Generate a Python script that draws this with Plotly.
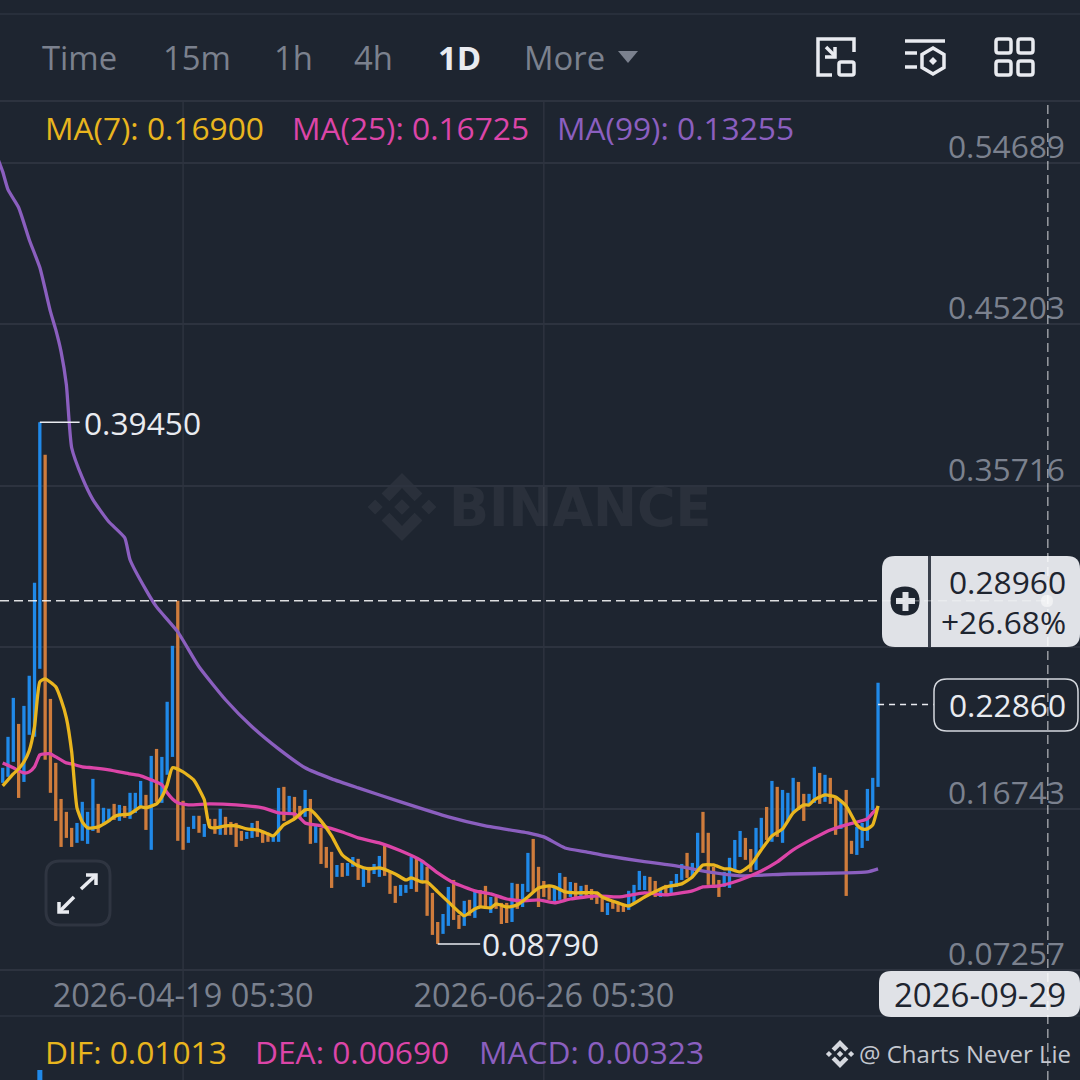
import pandas as pd
import plotly.graph_objects as go

# daily candles, 2026-03-16 to 2026-08-28
first_day = pd.Timestamp('2026-03-16')
candle_high = [
    .1914, .2096, .2325, .2172, .2278, .2455, .3002, .3945, .3754, .2319,
    .1943, .1731, .1655, .1561, .1590, .1714, .1655, .1849, .1702, .1679,
    .1673, .1702, .1696, .1690, .1767, .1767, .1837, .1755, .1984, .2025,
    .1978, .2302, .2631, .2896, .1720, .1567, .1632, .1632, .1584, .1614,
    .1614, .1673, .1626, .1596, .1590, .1543, .1537, .1590, .1602, .1532,
    .1520, .1508, .1796, .1802, .1749, .1743, .1690, .1784, .1731, .1579,
    .1561, .1449, .1420, .1343, .1355, .1355, .1390, .1379, .1326, .1332,
    .1349, .1396, .1455, .1302, .1220, .1226, .1226, .1390, .1390, .1361,
    .1332, .1179, .1008, .1055, .1214, .1255, .1049, .1132, .1138, .1185,
    .1196, .1220, .1155, .1155, .1120, .1120, .1238, .1232, .1232, .1414,
    .1496, .1332, .1249, .1226, .1208, .1296, .1273, .1243, .1238, .1220,
    .1226, .1202, .1173, .1149, .1120, .1126, .1120, .1108, .1191, .1226,
    .1308, .1279, .1273, .1249, .1208, .1226, .1249, .1290, .1349, .1414,
    .1355, .1532, .1655, .1532, .1332, .1255, .1302, .1385, .1490, .1543,
    .1502, .1437, .1561, .1620, .1684, .1837, .1802, .1784, .1767, .1855,
    .1831, .1761, .1761, .1920, .1884, .1873, .1855, .1737, .1714, .1784,
    .1485, .1567, .1590, .1790, .1855, .2414,
]
candle_low = [
    .1826, .1861, .1949, .1737, .1831, .2108, .2096, .2496, .1961, .1767,
    .1602, .1449, .1502, .1449, .1473, .1485, .1467, .1543, .1532, .1579,
    .1596, .1608, .1602, .1620, .1614, .1649, .1679, .1549, .1432, .1714,
    .1708, .1873, .1978, .1485, .1432, .1473, .1555, .1532, .1508, .1561,
    .1526, .1520, .1520, .1520, .1449, .1485, .1496, .1502, .1508, .1473,
    .1479, .1479, .1479, .1602, .1637, .1608, .1620, .1626, .1467, .1473,
    .1349, .1326, .1208, .1273, .1273, .1279, .1332, .1255, .1214, .1238,
    .1290, .1273, .1279, .1173, .1120, .1161, .1179, .1202, .1185, .1238,
    .1044, .0932, .0879, .0938, .0985, .1020, .0967, .0985, .1044, .1032,
    .1091, .1091, .1061, .1085, .0996, .1002, .1008, .1085, .1096, .1185,
    .1179, .1096, .1155, .1138, .1126, .1138, .1143, .1155, .1155, .1155,
    .1155, .1138, .1114, .1067, .1049, .1085, .1067, .1067, .1079, .1120,
    .1196, .1196, .1179, .1155, .1155, .1167, .1173, .1214, .1255, .1267,
    .1273, .1302, .1414, .1226, .1226, .1155, .1214, .1208, .1314, .1390,
    .1373, .1302, .1314, .1443, .1490, .1479, .1508, .1473, .1608, .1655,
    .1666, .1602, .1696, .1708, .1702, .1714, .1702, .1520, .1555, .1161,
    .1408, .1402, .1443, .1485, .1666, .1802,
]
# candle numbers that closed down
falling = [
    3, 8, 9, 10, 11, 12, 13, 18, 21, 23, 27, 29, 33, 34, 37, 39, 40, 42, 43, 44,
    45, 48, 49, 50, 53, 55, 56, 58, 60, 61, 62, 64, 67, 69, 72, 73, 74, 78, 80,
    81, 82, 85, 86, 88, 90, 91, 93, 94, 95, 97, 100, 101, 102, 103, 106, 108,
    110, 111, 112, 113, 115, 116, 117, 122, 123, 125, 129, 132, 133, 134, 135,
    140, 141, 144, 146, 150, 151, 154, 156, 157, 159, 160,
]

ma7_day = [
    0, 1, 2, 3, 4, 5, 6, 7, 8, 10, 11, 12, 13, 14, 15, 16, 18, 20, 21, 22, 24, 26,
    27, 29, 30, 31, 32, 34, 36, 37, 38, 39, 40, 42, 44, 46, 48, 50, 51, 53, 55, 57,
    58, 60, 62, 64, 67, 69, 71, 74, 76, 77, 79, 80, 82, 84, 86, 87, 89, 90, 92, 93,
    95, 97, 99, 101, 103, 104, 106, 108, 112, 113, 116, 118, 121, 124, 125, 128,
    130, 132, 134, 136, 137, 139, 141, 143, 145, 147, 149, 151, 152, 153, 155, 157,
    159, 161, 162, 163, 164, 165,
]
ma7 = [
    .1808, .1843, .1878, .1908, .1949, .2014, .2155, .2419, .2437, .2390, .2314,
    .2208, .2008, .1679, .1596, .1561, .1567, .1602, .1626, .1637, .1643, .1684,
    .1679, .1702, .1743, .1814, .1914, .1890, .1843, .1790, .1726, .1567, .1561,
    .1573, .1573, .1555, .1549, .1526, .1514, .1579, .1614, .1667, .1667, .1602,
    .1514, .1402, .1338, .1320, .1326, .1290, .1255, .1267, .1243, .1243, .1185,
    .1126, .1067, .1044, .1085, .1096, .1091, .1114, .1096, .1108, .1155, .1208,
    .1220, .1214, .1185, .1179, .1179, .1155, .1120, .1102, .1155, .1202, .1214,
    .1232, .1273, .1343, .1343, .1320, .1320, .1302, .1343, .1432, .1514, .1555,
    .1649, .1696, .1696, .1726, .1755, .1743, .1690, .1579, .1555, .1555, .1579,
    .1690,
]
ma25_day = [
    0, 2, 4, 5, 6, 7, 8, 9, 10, 12, 13, 15, 17, 20, 24, 26, 28, 30, 31, 32, 33, 35,
    39, 44, 49, 52, 55, 56, 57, 60, 64, 67, 71, 75, 79, 82, 85, 89, 92, 95, 98, 101,
    104, 107, 112, 116, 121, 125, 130, 132, 135, 139, 143, 146, 149, 153, 156, 159,
    163, 164, 165,
]
ma25 = [
    .1943, .1914, .1884, .1890, .1920, .1990, .1996, .1996, .1978, .1943, .1937,
    .1920, .1914, .1902, .1878, .1867, .1843, .1814, .1767, .1731, .1708, .1696,
    .1702, .1696, .1679, .1649, .1643, .1620, .1590, .1573, .1537, .1502, .1473,
    .1426, .1367, .1296, .1238, .1191, .1173, .1143, .1132, .1138, .1120, .1143,
    .1161, .1155, .1179, .1167, .1191, .1214, .1220, .1255, .1308, .1361, .1432,
    .1502, .1549, .1579, .1614, .1649, .1679,
]
ma99_day = [
    -1, 0, 1, 3, 5, 7, 9, 10, 11, 12, 13, 15, 17, 20, 23, 24, 27, 29, 33, 37, 42,
    47, 52, 57, 62, 67, 75, 84, 91, 99, 102, 106, 110, 114, 120, 128, 133, 139, 148,
    159, 163, 165,
]
ma99 = [
    .5501, .5418, .5312, .5207, .5018, .4854, .4595, .4489, .4360, .4166, .3795,
    .3619, .3490, .3360, .3266, .3137, .2960, .2860, .2713, .2508, .2314, .2155,
    .2025, .1914, .1849, .1796, .1714, .1626, .1573, .1532, .1508, .1443, .1420,
    .1396, .1367, .1332, .1302, .1279, .1290, .1296, .1302, .1320,
]

price_ticks = [0.07257, 0.16743, 0.26230, 0.35716, 0.45203, 0.54689]
date_ticks = ['2026-04-19', '2026-06-26']
date_tick_labels = ['2026-04-19 05:30', '2026-06-26 05:30']
macd_hist_day = [7]
macd_hist = [0.0425]

high_price, low_price = 0.39450, 0.08790
high_day, low_day = 7, 82
last_price = 0.22860
cross_price = 0.28960
cross_date = '2026-09-29'

BG = '#1e2530'
GRID = '#2d333f'
MUTED = '#7b818e'
LIGHT = '#e0e2e7'
WHITE = '#e9ebf0'
YELLOW = '#e9b51e'
PINK = '#dc45a8'
PURPLE = '#8b5fbf'
BLUE = '#2089e8'
ORANGE = '#cf7c3c'
MARK = 'rgba(255,255,255,0.055)'
FONT = 'Open Sans'
SIZE = 31.7


def day(n):
    return first_day + pd.Timedelta(days=n)


def px(x):
    return x / 1080


def py(y):
    return 1 - y / 1080


def poly(points, close=True):
    d = 'M' + ' L'.join(f'{px(x):.5f},{py(y):.5f}' for x, y in points)
    return d + (' Z' if close else '')


def rrect(x0, y0, x1, y1, r):
    p = lambda x, y: f'{px(x):.5f},{py(y):.5f}'
    return (f'M{p(x0 + r, y0)} L{p(x1 - r, y0)} Q{p(x1, y0)} {p(x1, y0 + r)} '
            f'L{p(x1, y1 - r)} Q{p(x1, y1)} {p(x1 - r, y1)} L{p(x0 + r, y1)} '
            f'Q{p(x0, y1)} {p(x0, y1 - r)} L{p(x0, y0 + r)} Q{p(x0, y0)} {p(x0 + r, y0)} Z')


shapes = []
notes = []


def add_path(d, fill='rgba(0,0,0,0)', line=None, width=0, layer='above'):
    shapes.append(dict(type='path', path=d, xref='paper', yref='paper', layer=layer,
                       fillcolor=fill, line=dict(color=line or 'rgba(0,0,0,0)', width=width)))


def add_rule(x0, y0, x1, y1, color=GRID, width=1.5, dash='solid', layer='above'):
    shapes.append(dict(type='line', xref='paper', yref='paper', layer=layer,
                       x0=px(x0), y0=py(y0), x1=px(x1), y1=py(y1),
                       line=dict(color=color, width=width, dash=dash)))


def add_text(x, y, text, color, size=SIZE, anchor='left', font=FONT):
    notes.append(dict(xref='paper', yref='paper', x=px(x), y=py(y), text=text, showarrow=False,
                      xanchor=anchor, yanchor='middle', borderpad=0,
                      font=dict(family=font, size=size, color=color)))


def add_logo(cx, cy, r, color, layer='below'):
    def sq(ox, oy, h):
        return poly([(cx + ox, cy + oy - h), (cx + ox + h, cy + oy), (cx + ox, cy + oy + h), (cx + ox - h, cy + oy)])
    d = sq(0, 0, r * .23) + ' ' + sq(-r * .79, 0, r * .22) + ' ' + sq(r * .79, 0, r * .22)
    for s in (-1, 1):
        d += ' ' + poly([(cx, cy + s * r), (cx + r * .6, cy + s * r * .4), (cx + r * .37, cy + s * r * .17),
                         (cx, cy + s * r * .56), (cx - r * .37, cy + s * r * .17), (cx - r * .6, cy + s * r * .4)])
    add_path(d, fill=color, layer=layer)


# header
add_rule(0, 14, 1080, 14)
add_rule(0, 101, 1080, 101, width=2)
add_text(41, 58, 'Time', MUTED, size=32.8)
add_text(162, 58, '15m', MUTED, size=32.8)
add_text(273, 58, '1h', MUTED, size=32.8)
add_text(353, 58, '4h', MUTED, size=32.8)
add_text(437, 57, '<b>1D</b>', WHITE, size=33)
add_text(523, 58, 'More', MUTED, size=32.8)
add_path(poly([(618, 51), (638, 51), (628, 63)]), fill=MUTED)

# icons, top right
ICON = dict(line=WHITE, width=3.5)
add_path(poly([(854, 52), (854, 39), (818, 39), (818, 75), (832, 75)], close=False), **ICON)
add_path(rrect(839, 62, 854, 75, 2), **ICON)
add_path(poly([(826, 47), (835, 56)], close=False), **ICON)
add_path(poly([(835, 47), (835, 57), (825, 57)], close=False), **ICON)
add_rule(905, 41, 945, 41, color=WHITE, width=3.5)
add_rule(905, 53, 917, 53, color=WHITE, width=3.5)
add_rule(905, 67, 917, 67, color=WHITE, width=3.5)
add_path(poly([(933, 48), (944, 54.5), (944, 67.5), (933, 74), (922, 67.5), (922, 54.5)]), **ICON)
add_path(poly([(933, 57), (937, 61), (933, 65), (929, 61)]), fill=WHITE)
for x0 in (996, 1018):
    for y0 in (39, 61):
        add_path(rrect(x0, y0, x0 + 15, y0 + 14, 2.5), **ICON)

# MA legend
add_text(44, 128, 'MA(7): 0.16900', YELLOW)
add_text(291, 128, 'MA(25): 0.16725', PINK)
add_text(556, 128, 'MA(99): 0.13255', PURPLE)

# date gridlines run through the panels below the price area
for d in date_ticks:
    shapes.append(dict(type='line', xref='x', yref='paper', layer='below', x0=d, x1=d,
                       y0=0, y1=py(102), line=dict(color=GRID, width=1.5)))
add_rule(0, 970, 1080, 970, layer='below')
add_rule(0, 1016, 1080, 1016, layer='below')

# watermark
add_logo(402, 507, 34, MARK)
add_text(448, 507, '<b>BINANCE</b>', MARK, size=52.5, font='DejaVu Sans')

# expand button
add_path(rrect(46, 861, 110, 925, 14), line='#2f3541', width=3)
add_path(poly([(81, 889), (96, 875)], close=False), line=WHITE, width=3.5)
add_path(poly([(86, 875), (96, 875), (96, 885)], close=False), line=WHITE, width=3.5)
add_path(poly([(74, 897), (59, 912)], close=False), line=WHITE, width=3.5)
add_path(poly([(59, 902), (59, 912), (69, 912)], close=False), line=WHITE, width=3.5)

# high / low markers
shapes.append(dict(type='line', xref='x', yref='y', layer='above', x0=day(high_day), x1=day(high_day + 7.5),
                   y0=high_price, y1=high_price, line=dict(color=WHITE, width=1.5)))
shapes.append(dict(type='line', xref='x', yref='y', layer='above', x0=day(low_day), x1=day(low_day + 8),
                   y0=low_price, y1=low_price, line=dict(color=WHITE, width=1.5)))
notes.append(dict(xref='x', yref='y', x=day(high_day + 8), y=high_price, text=f'{high_price:.5f}', showarrow=False,
                  xanchor='left', yanchor='middle', font=dict(family=FONT, size=SIZE, color=WHITE)))
notes.append(dict(xref='x', yref='y', x=day(low_day + 8), y=low_price, text=f'{low_price:.5f}', showarrow=False,
                  xanchor='left', yanchor='middle', font=dict(family=FONT, size=SIZE, color=WHITE)))

# last price tag
shapes.append(dict(type='line', xref='x', yref='y', layer='above', x0=day(165), x1=day(175.5),
                   y0=last_price, y1=last_price, line=dict(color=WHITE, width=1.5, dash='6px,5px')))
add_path(rrect(934, 679, 1078, 731, 13), fill=BG, line='#d5d8de', width=1.5)
add_text(1067, 704, f'{last_price:.5f}', WHITE, anchor='right')

# crosshair price tag
add_path(rrect(882, 556, 1080, 647, 13), fill=LIGHT)
add_rule(929.5, 556, 929.5, 647, color='#3a404c', width=3)
add_path(rrect(890.5, 586.5, 919.5, 615.5, 14.5), fill=BG)
add_rule(896, 601, 915, 601, color=LIGHT, width=6)
add_rule(905.5, 592, 905.5, 611, color=LIGHT, width=6)
add_text(1067, 581, f'{cross_price:.5f}', BG, anchor='right')
add_text(1067, 621, '+26.68%', BG, anchor='right')

# date tag
add_path(rrect(879, 971, 1080, 1017, 12), fill=LIGHT)
add_text(980, 994, cross_date, BG, size=33, anchor='center')

# crosshair, faint where it runs over the tags
shapes.append(dict(type='line', xref='paper', yref='y', layer='above', x0=0, x1=px(882),
                   y0=cross_price, y1=cross_price, line=dict(color='rgba(255,255,255,0.85)', width=1.5, dash='9px,5px')))
shapes.append(dict(type='line', xref='paper', yref='y', layer='above', x0=px(882), x1=px(1047),
                   y0=cross_price, y1=cross_price, line=dict(color='rgba(255,255,255,0.3)', width=1.5, dash='9px,5px')))
shapes.append(dict(type='line', xref='x', yref='paper', layer='above', x0=cross_date, x1=cross_date,
                   y0=0, y1=py(102), line=dict(color='rgba(255,255,255,0.55)', width=1.5, dash='9px,5px')))
add_path(rrect(1041, 595, 1053, 607, 6), fill='rgba(255,255,255,0.5)')

# MACD legend and footer
add_text(44, 1051, 'DIF: 0.01013', YELLOW)
add_text(254, 1051, 'DEA: 0.00690', PINK)
add_text(478, 1051, 'MACD: 0.00323', PURPLE)
add_text(858, 1053, '@ Charts Never Lie', '#c3c7cf', size=24, anchor='left')
add_logo(840, 1054, 14, '#d5d8de', layer='above')

days = [day(i) for i in range(len(candle_high))]
colors = [ORANGE if i in falling else BLUE for i in range(len(days))]
spans = [h - l for h, l in zip(candle_high, candle_low)]
DAY_MS = 86400000

fig = go.Figure()
fig.add_trace(go.Bar(x=days, base=candle_low, y=spans, width=0.62 * DAY_MS, marker=dict(color=colors, line_width=0),
                     hoverinfo='skip', xaxis='x', yaxis='y'))
for ma_day, values, color in [(ma99_day, ma99, PURPLE), (ma25_day, ma25, PINK), (ma7_day, ma7, YELLOW)]:
    fig.add_trace(go.Scatter(x=[day(i) for i in ma_day], y=values, mode='lines',
                             line=dict(color=color, width=3.3, shape='spline', smoothing=0.5),
                             hoverinfo='skip', xaxis='x', yaxis='y'))
fig.add_trace(go.Bar(x=[day(i) for i in macd_hist_day], y=macd_hist, width=0.95 * DAY_MS,
                     marker=dict(color=BLUE, line_width=0), hoverinfo='skip', xaxis='x2', yaxis='y2'))

x_range = ['2026-03-15 11:46', '2026-10-05 01:41']
fig.update_layout(
    width=1080,
    height=1080,
    margin=dict(l=0, r=0, t=0, b=0),
    paper_bgcolor=BG,
    plot_bgcolor='rgba(0,0,0,0)',
    showlegend=False,
    barmode='overlay',
    shapes=shapes,
    annotations=notes,
    font=dict(family=FONT),
    xaxis=dict(type='date', range=x_range, domain=[0, 1], anchor='y', showgrid=False, zeroline=False,
               showline=False, tickmode='array', tickvals=date_ticks, ticktext=date_tick_labels,
               ticks='', ticklabelstandoff=-2, tickfont=dict(family=FONT, size=32.5, color=MUTED)),
    yaxis=dict(domain=[py(975), py(102)], range=[0.06963, 0.58272], anchor='x', side='right',
               tickmode='array', tickvals=price_ticks, ticktext=[f'{v:.5f}' for v in price_ticks],
               ticklabelposition='inside top', ticklabelstandoff=12, ticklabelshift=6,
               gridcolor=GRID, gridwidth=1.5, zeroline=False, showline=False,
               tickfont=dict(family=FONT, size=SIZE, color=MUTED)),
    xaxis2=dict(type='date', range=x_range, domain=[0, 1], anchor='y2', visible=False),
    yaxis2=dict(domain=[0, py(1016)], range=[0.04, 0.056], anchor='x2', visible=False),
)

fig.write_html('out.html', config=dict(displayModeBar=False),
               post_script="document.body.style.margin='0';")
